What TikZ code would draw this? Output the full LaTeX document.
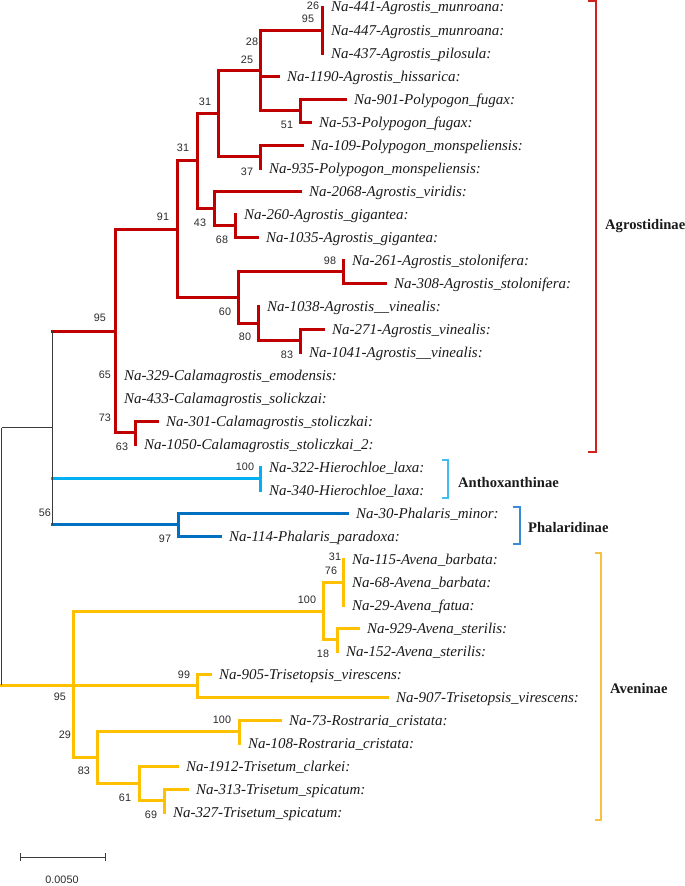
\documentclass[tikz,border=0pt]{standalone}
\usepackage{fontspec}
\setmainfont{Liberation Serif}
\newfontfamily\numfont{Liberation Sans}
\definecolor{cRed}{HTML}{C00000}
\definecolor{cCyan}{HTML}{00B0F0}
\definecolor{cBlue}{HTML}{0070C0}
\definecolor{cYel}{HTML}{FFC000}
\definecolor{cGray}{HTML}{3A3A3A}
\definecolor{cText}{HTML}{1A1A1A}
\definecolor{cNum}{HTML}{2A2A2A}
\definecolor{cBrRed}{HTML}{D02020}
\definecolor{cBrCyan}{HTML}{40BEEE}
\definecolor{cBrBlue}{HTML}{3A8AD4}
\definecolor{cBrYel}{HTML}{F8C040}
\newcommand\leafat[4]{\coordinate (#1) at (#2,#3); \node[leaf] (#1t) at (#1) {#4};}
\begin{document}
\begin{tikzpicture}[x=1pt,y=-1pt,
  br/.style={line width=3pt,line cap=rect},
  agro/.style={br,draw=cRed},
  anth/.style={br,draw=cCyan},
  phal/.style={br,draw=cBlue},
  aven/.style={br,draw=cYel},
  rootln/.style={line width=1pt,draw=cGray},
  leaf/.style={anchor=base west,inner sep=0pt,xshift=9pt,yshift=-5pt,font=\fontsize{15}{15}\selectfont\itshape,text=cText},
  bs/.style={inner sep=0pt,font=\numfont\fontsize{10.8}{10.8}\selectfont,text=cNum},
  clade/.style={anchor=base west,inner sep=0pt,font=\fontsize{14.6}{14.6}\selectfont\bfseries,text=cText},
  brk/.style={line width=1.1pt}]
\useasboundingbox (0,0) rectangle (685,886);

% leaves
\leafat{L1}{322}{7}{Na-441-Agrostis\_munroana:}
\leafat{L2}{322}{30}{Na-447-Agrostis\_munroana:}
\leafat{L3}{322}{53}{Na-437-Agrostis\_pilosula:}
\leafat{L4}{278}{76}{Na-1190-Agrostis\_hissarica:}
\leafat{L5}{345}{99}{Na-901-Polypogon\_fugax:}
\leafat{L6}{310}{122}{Na-53-Polypogon\_fugax:}
\leafat{L7}{302}{145}{Na-109-Polypogon\_monspeliensis:}
\leafat{L8}{260}{168}{Na-935-Polypogon\_monspeliensis:}
\leafat{L9}{300}{191}{Na-2068-Agrostis\_viridis:}
\leafat{L10}{235}{214}{Na-260-Agrostis\_gigantea:}
\leafat{L11}{257}{237}{Na-1035-Agrostis\_gigantea:}
\leafat{L12}{343}{260}{Na-261-Agrostis\_stolonifera:}
\leafat{L13}{385}{283}{Na-308-Agrostis\_stolonifera:}
\leafat{L14}{258}{306}{Na-1038-Agrostis\_\_vinealis:}
\leafat{L15}{323}{329}{Na-271-Agrostis\_vinealis:}
\leafat{L16}{300}{352}{Na-1041-Agrostis\_\_vinealis:}
\leafat{L17}{115}{375}{Na-329-Calamagrostis\_emodensis:}
\leafat{L18}{115}{398}{Na-433-Calamagrostis\_solickzai:}
\leafat{L19}{157}{421}{Na-301-Calamagrostis\_stoliczkai:}
\leafat{L20}{135}{444}{Na-1050-Calamagrostis\_stoliczkai\_2:}
\leafat{L21}{260}{467}{Na-322-Hierochloe\_laxa:}
\leafat{L22}{260}{490}{Na-340-Hierochloe\_laxa:}
\leafat{L23}{347}{513}{Na-30-Phalaris\_minor:}
\leafat{L24}{220}{536}{Na-114-Phalaris\_paradoxa:}
\leafat{L25}{343}{559}{Na-115-Avena\_barbata:}
\leafat{L26}{343}{582}{Na-68-Avena\_barbata:}
\leafat{L27}{343}{605}{Na-29-Avena\_fatua:}
\leafat{L28}{358}{628}{Na-929-Avena\_sterilis:}
\leafat{L29}{337}{651}{Na-152-Avena\_sterilis:}
\leafat{L30}{210}{674}{Na-905-Trisetopsis\_virescens:}
\leafat{L31}{387}{697}{Na-907-Trisetopsis\_virescens:}
\leafat{L32}{280}{720}{Na-73-Rostraria\_cristata:}
\leafat{L33}{239}{743}{Na-108-Rostraria\_cristata:}
\leafat{L34}{177}{766}{Na-1912-Trisetum\_clarkei:}
\leafat{L35}{187}{789}{Na-313-Trisetum\_spicatum:}
\leafat{L36}{164}{812}{Na-327-Trisetum\_spicatum:}

% internal nodes
\coordinate (n95a) at (322,30);
\coordinate (nPoly) at (300,110.5);
\coordinate (n28) at (260,70);
\coordinate (n37) at (260,156.5);
\coordinate (n31a) at (218,113);
\coordinate (n68) at (235,225.5);
\coordinate (n43) at (214,208);
\coordinate (n31b) at (197,160.5);
\coordinate (n98) at (343,271.5);
\coordinate (n83) at (300,340.5);
\coordinate (n80) at (258,323);
\coordinate (n60) at (238,297);
\coordinate (n91) at (177,229);
\coordinate (n63) at (135,432.5);
\coordinate (n95b) at (115,331);
\coordinate (nHi) at (260,478.5);
\coordinate (nPh) at (178,524.5);
\coordinate (n56) at (52,427.5);
\coordinate (n76) at (343,582);
\coordinate (n18) at (337,639.5);
\coordinate (n100a) at (323,611);
\coordinate (n99) at (197,685);
\coordinate (n100b) at (239,731.5);
\coordinate (n69) at (164,800.5);
\coordinate (n61) at (139,783);
\coordinate (n83b) at (97,757);
\coordinate (n95c) at (73,685);
\coordinate (root) at (1.5,556);

% Agrostidinae (red)
\draw[agro] (n95a |- L1) -- (n95a |- L3);
\draw[agro] (nPoly |- L5) -- (nPoly |- L6);
\draw[agro] (nPoly |- L5) -- (L5);
\draw[agro] (nPoly |- L6) -- (L6);
\draw[agro] (n28 |- n95a) -- (n28 |- nPoly);
\draw[agro] (n28 |- n95a) -- (n95a);
\draw[agro] (n28 |- L4) -- (L4);
\draw[agro] (n28 |- nPoly) -- (nPoly);
\draw[agro] (n37 |- L7) -- (n37 |- L8);
\draw[agro] (n37 |- L7) -- (L7);
\draw[agro] (n31a |- n28) -- (n31a |- n37);
\draw[agro] (n31a |- n28) -- (n28);
\draw[agro] (n31a |- n37) -- (n37);
\draw[agro] (n68 |- L10) -- (n68 |- L11);
\draw[agro] (n68 |- L11) -- (L11);
\draw[agro] (n43 |- L9) -- (n43 |- n68);
\draw[agro] (n43 |- L9) -- (L9);
\draw[agro] (n43 |- n68) -- (n68);
\draw[agro] (n31b |- n31a) -- (n31b |- n43);
\draw[agro] (n31b |- n31a) -- (n31a);
\draw[agro] (n31b |- n43) -- (n43);
\draw[agro] (n98 |- L12) -- (n98 |- L13);
\draw[agro] (n98 |- L13) -- (L13);
\draw[agro] (n83 |- L15) -- (n83 |- L16);
\draw[agro] (n83 |- L15) -- (L15);
\draw[agro] (n80 |- L14) -- (n80 |- n83);
\draw[agro] (n80 |- n83) -- (n83);
\draw[agro] (n60 |- n98) -- (n60 |- n80);
\draw[agro] (n60 |- n98) -- (n98);
\draw[agro] (n60 |- n80) -- (n80);
\draw[agro] (n91 |- n31b) -- (n91 |- n60);
\draw[agro] (n91 |- n31b) -- (n31b);
\draw[agro] (n91 |- n60) -- (n60);
\draw[agro] (n63 |- L19) -- (n63 |- L20);
\draw[agro] (n63 |- L19) -- (L19);
\draw[agro] (n95b |- n91) -- (n95b |- n63);
\draw[agro] (n95b |- n91) -- (n91);
\draw[agro] (n95b |- n63) -- (n63);
\draw[agro] (n56 |- n95b) -- (n95b);

% Anthoxanthinae (cyan)
\draw[anth] (nHi |- L21) -- (nHi |- L22);
\draw[anth] (n56 |- nHi) -- (nHi);

% Phalaridinae (blue)
\draw[phal] (nPh |- L23) -- (nPh |- L24);
\draw[phal] (nPh |- L23) -- (L23);
\draw[phal] (nPh |- L24) -- (L24);
\draw[phal] (n56 |- nPh) -- (nPh);

% Aveninae (yellow)
\draw[aven] (n76 |- L25) -- (n76 |- L27);
\draw[aven] (n18 |- L28) -- (n18 |- L29);
\draw[aven] (n18 |- L28) -- (L28);
\draw[aven] (n100a |- n76) -- (n100a |- n18);
\draw[aven] (n100a |- n76) -- (n76);
\draw[aven] (n100a |- n18) -- (n18);
\draw[aven] (n99 |- L30) -- (n99 |- L31);
\draw[aven] (n99 |- L30) -- (L30);
\draw[aven] (n99 |- L31) -- (L31);
\draw[aven] (n100b |- L32) -- (n100b |- L33);
\draw[aven] (n100b |- L32) -- (L32);
\draw[aven] (n69 |- L35) -- (n69 |- L36);
\draw[aven] (n69 |- L35) -- (L35);
\draw[aven] (n61 |- L34) -- (n61 |- n69);
\draw[aven] (n61 |- L34) -- (L34);
\draw[aven] (n61 |- n69) -- (n69);
\draw[aven] (n83b |- n100b) -- (n83b |- n61);
\draw[aven] (n83b |- n100b) -- (n100b);
\draw[aven] (n83b |- n61) -- (n61);
\draw[aven] (n95c |- n100a) -- (n95c |- n83b);
\draw[aven] (n95c |- n100a) -- (n100a);
\draw[aven] (n95c) -- (n99);
\draw[aven] (n95c |- n83b) -- (n83b);
\draw[aven] (root |- n95c) -- (n95c);

% root (black)
\draw[rootln] (n56 |- n95b) -- (n56 |- nPh);
\draw[rootln] (root |- n56) -- (n56);
\draw[rootln] (root |- n56) -- (root |- n95c);

% bootstrap values
\node[bs] (b1) at (313,6) {26};
\node[bs] (b2) at (308,19) {95};
\node[bs] (b3) at (252,42) {28};
\node[bs] (b4) at (247,60) {25};
\node[bs] (b5) at (287,125) {51};
\node[bs] (b6) at (205,102) {31};
\node[bs] (b7) at (247,172) {37};
\node[bs] (b8) at (183,148) {31};
\node[bs] (b9) at (200,223) {43};
\node[bs] (b10) at (222,240) {68};
\node[bs] (b11) at (163,217) {91};
\node[bs] (b12) at (330,261) {98};
\node[bs] (b13) at (225,312) {60};
\node[bs] (b14) at (245,337) {80};
\node[bs] (b15) at (287,355) {83};
\node[bs] (b16) at (100,318) {95};
\node[bs] (b17) at (105,375) {65};
\node[bs] (b18) at (105,418) {73};
\node[bs] (b19) at (122,447) {63};
\node[bs] (b20) at (245,467) {100};
\node[bs] (b21) at (45,513) {56};
\node[bs] (b22) at (165,539) {97};
\node[bs] (b23) at (335,557) {31};
\node[bs] (b24) at (331,571) {76};
\node[bs] (b25) at (307,600) {100};
\node[bs] (b26) at (323,654) {18};
\node[bs] (b27) at (184,675) {99};
\node[bs] (b28) at (60,697) {95};
\node[bs] (b29) at (65,735) {29};
\node[bs] (b30) at (222,720) {100};
\node[bs] (b31) at (84,771) {83};
\node[bs] (b32) at (125,798) {61};
\node[bs] (b33) at (151,815) {69};

% clade brackets
\draw[brk,draw=cBrRed] (588,1) -- (596,1) -- (596,452) -- (588,452);
\draw[brk,draw=cBrCyan] (442,460) -- (448,460) -- (448,498) -- (442,498);
\draw[brk,draw=cBrBlue] (513,507) -- (520,507) -- (520,544) -- (513,544);
\draw[brk,draw=cBrYel] (595,553) -- (601,553) -- (601,820) -- (595,820);
\node[clade] (cAgro) at (605,229) {Agrostidinae};
\node[clade] (cAnth) at (458,487) {Anthoxanthinae};
\node[clade] (cPhal) at (528,532) {Phalaridinae};
\node[clade] (cAven) at (610,693) {Aveninae};

% scale bar
\coordinate (s1) at (20,857);
\coordinate (s2) at (105,857);
\draw[line width=0.9pt,draw=cGray] (s1) -- (s2);
\draw[line width=0.9pt,draw=cGray] ([yshift=4pt]s1) -- ([yshift=-4pt]s1);
\draw[line width=0.9pt,draw=cGray] ([yshift=4pt]s2) -- ([yshift=-4pt]s2);
\node[bs] (sl) at (62,880) {0.0050};
\end{tikzpicture}
\end{document}
